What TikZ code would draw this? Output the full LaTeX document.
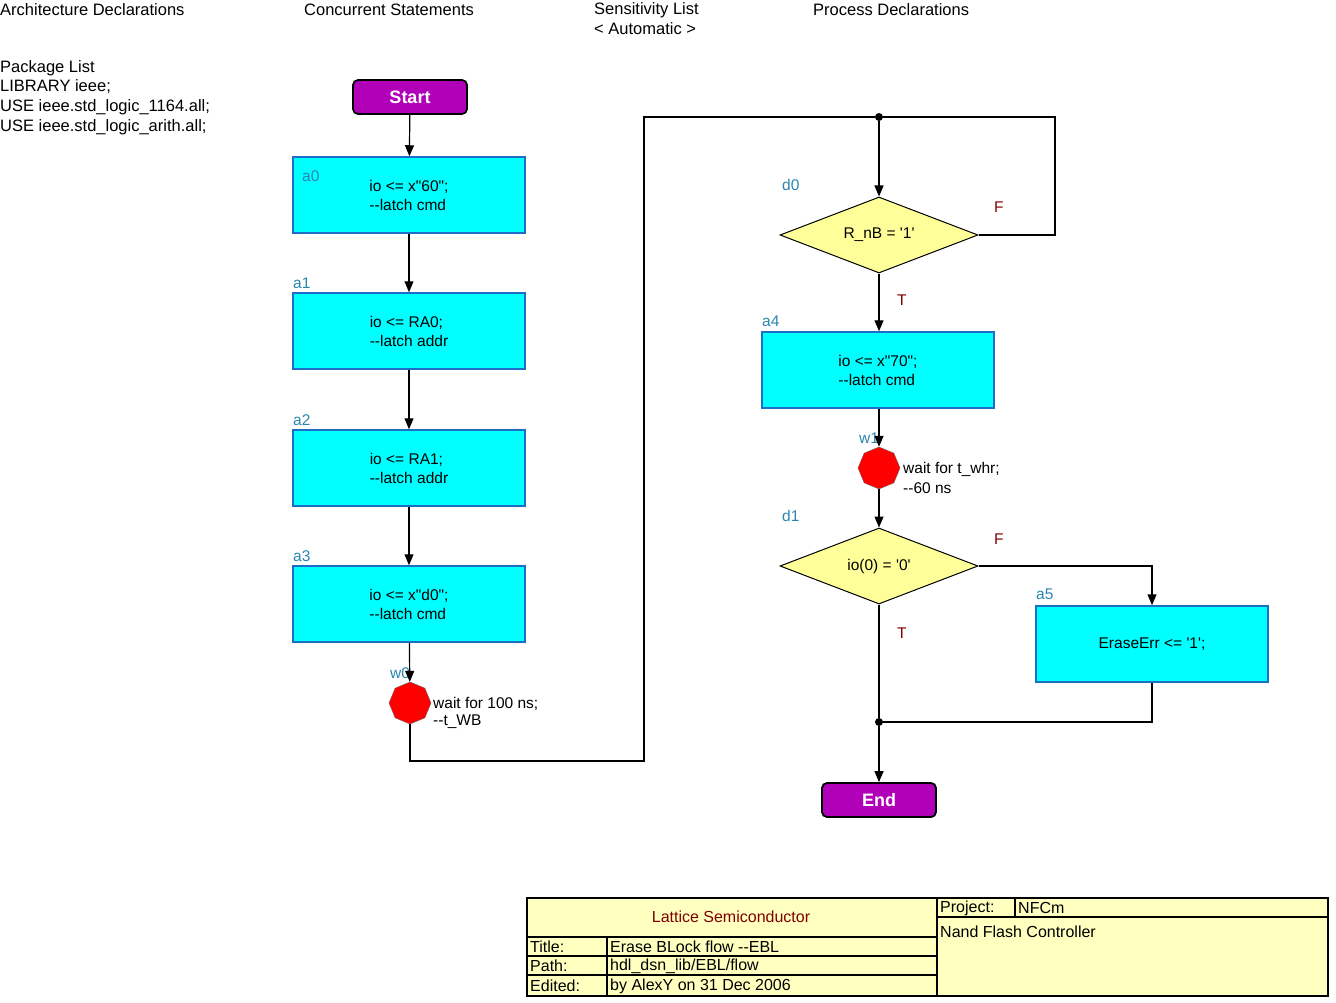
\documentclass[tikz,border=0pt]{standalone}
\usepackage{fontspec}
\setmainfont{Liberation Sans}[Ligatures=TeXOff]
\usetikzlibrary{shapes.geometric,shapes.misc,arrows.meta}
\definecolor{cy}{HTML}{00FFFF}
\definecolor{bb}{HTML}{1E6EC8}
\definecolor{pu}{HTML}{B000B8}
\definecolor{dy}{HTML}{FFFF99}
\definecolor{ty}{HTML}{FFFFC0}
\definecolor{lb}{HTML}{2A86B0}
\definecolor{dr}{HTML}{800000}
\begin{document}
\begin{tikzpicture}[x=1pt,y=-1pt,
  every node/.style={font=\fontsize{15.5}{19}\selectfont},
  act/.style={draw=bb,line width=1.5pt,fill=cy,minimum width=232pt,minimum height=76pt,align=left},
  term/.style={draw=black,line width=1.8pt,fill=pu,rounded corners=5pt,minimum width=114pt,minimum height=34pt,text=white,font=\fontsize{18}{20}\selectfont\bfseries},
  dec/.style={diamond,draw=black,line width=1pt,fill=dy,minimum width=198pt,minimum height=76pt,aspect=2.6,inner sep=0pt},
  stp/.style={regular polygon,regular polygon sides=8,draw=black!60,fill=red,minimum size=42pt,inner sep=0pt,shape border rotate=22.5},
  lab/.style={text=lb,anchor=west,inner sep=0pt},
  tf/.style={text=dr,anchor=west,inner sep=0pt},
  txt/.style={anchor=west,inner sep=0pt},
  arr/.style={-{Triangle[length=11pt,width=9pt]},line width=1.2pt},
  ln/.style={line width=1.2pt},
  dot/.style={circle,fill=black,inner sep=0pt,minimum size=8pt}]
\useasboundingbox (0,0) rectangle (1336,1003);
\begin{scope}[every node/.style={font=\fontsize{16.5}{19.7}\selectfont}]
\node[txt] (h1) at (0,10) {Architecture Declarations};
\node[txt] (h2) at (304,10) {Concurrent Statements};
\node[txt] (h3) at (594,10) {Sensitivity List};
\node[txt] (h3b) at (594,29) {< Automatic >};
\node[txt] (h4) at (813,10) {Process Declarations};
\node[txt,align=left,anchor=north west] (pk) at (0,60) {Package List\\LIBRARY ieee;\\USE ieee.std\_logic\_1164.all;\\USE ieee.std\_logic\_arith.all;};
\end{scope}

\node[term] (start) at (410,97) {Start};
\node[act] (a0) at (409,195) {io <= x"60";\\--latch cmd};
\node[act] (a1) at (409,331) {io <= RA0;\\--latch addr};
\node[act] (a2) at (409,468) {io <= RA1;\\--latch addr};
\node[act] (a3) at (409,604) {io <= x"d0";\\--latch cmd};
\node[stp] (w0) at (410,703) {};
\node[lab] (la0) at (302,176) {a0};
\node[lab] (la1) at (293,283) {a1};
\node[lab] (la2) at (293,420) {a2};
\node[lab] (la3) at (293,556) {a3};
\node[lab] (lw0) at (390,673) {w0};
\node[txt] (tw0) at (433,704) {wait for 100 ns;};
\node[txt] (tw0b) at (433,722) {--t\_WB};

\node[dot] (j1) at (879,117) {};
\node[dec] (d0) at (879,235) {R\_nB = '1'};
\node[act] (a4) at (878,370) {io <= x"70";\\--latch cmd};
\node[stp] (w1) at (879,468) {};
\node[dec] (d1) at (879,566) {io(0) = '0'};
\node[act,align=center] (a5) at (1152,644) {EraseErr <= '1';};
\node[dot] (j2) at (879,722) {};
\node[term] (end) at (879,800) {End};
\node[lab] (ld0) at (782,185) {d0};
\node[lab] (la4) at (762,321) {a4};
\node[lab] (lw1) at (859,438) {w1};
\node[lab] (ld1) at (782,516) {d1};
\node[lab] (la5) at (1036,594) {a5};
\node[tf] (f0) at (994,207) {F};
\node[tf] (t0) at (897,300) {T};
\node[tf] (f1) at (994,539) {F};
\node[tf] (t1) at (897,633) {T};
\node[txt] (tw1) at (903,469) {wait for t\_whr;};
\node[txt] (tw1b) at (903,488) {--60 ns};

\draw[arr] (start) -- (a0);
\draw[arr] (a0) -- (a1);
\draw[arr] (a1) -- (a2);
\draw[arr] (a2) -- (a3);
\draw[arr] (a3) -- (w0);
\draw[ln] (w0.south) -- (410,761) -- (644,761) -- (644,117) -- (j1);
\draw[arr] (j1) -- (d0.north);
\draw[ln] (d0.east) -- (1055,235) -- (1055,117) -- (j1);
\draw[arr] (d0.south) -- (a4.north -| d0.south);
\draw[arr] (a4.south -| w1) -- (w1);
\draw[arr] (w1) -- (d1.north);
\draw[arr] (d1.east) -- (a5.north |- d1.east) -- (a5.north);
\draw[ln] (d1.south) -- (j2);
\draw[ln] (a5.south) -- (1152,722) -- (j2);
\draw[arr] (j2) -- (end);

\begin{scope}[every node/.style={font=\fontsize{16}{18}\selectfont,inner sep=0pt}]
\draw[line width=1.6pt,fill=ty] (527,898) rectangle (1328,996);
\draw[line width=1.6pt] (937,898) -- (937,996);
\draw[line width=1.6pt] (527,937) -- (937,937) (527,956) -- (937,956) (527,975) -- (937,975);
\draw[line width=1.6pt] (607,937) -- (607,996);
\draw[line width=1.6pt] (937,917) -- (1328,917) (1015,898) -- (1015,917);
\node[text=dr] (ls) at (731,917) {Lattice Semiconductor};
\node[anchor=west] (k1) at (530,947) {Title:};
\node[anchor=west] (v1) at (610,947) {Erase BLock flow --EBL};
\node[anchor=west] (k2) at (530,966) {Path:};
\node[anchor=west] (v2) at (610,966) {hdl\_dsn\_lib/EBL/flow};
\node[anchor=west] (k3) at (530,986) {Edited:};
\node[anchor=west] (v3) at (610,986) {by AlexY on 31 Dec 2006};
\node[anchor=west] (k4) at (940,908) {Project:};
\node[anchor=west] (v4) at (1018,908) {NFCm};
\node[anchor=west] (v5) at (940,932) {Nand Flash Controller};
\end{scope}
\end{tikzpicture}
\end{document}
